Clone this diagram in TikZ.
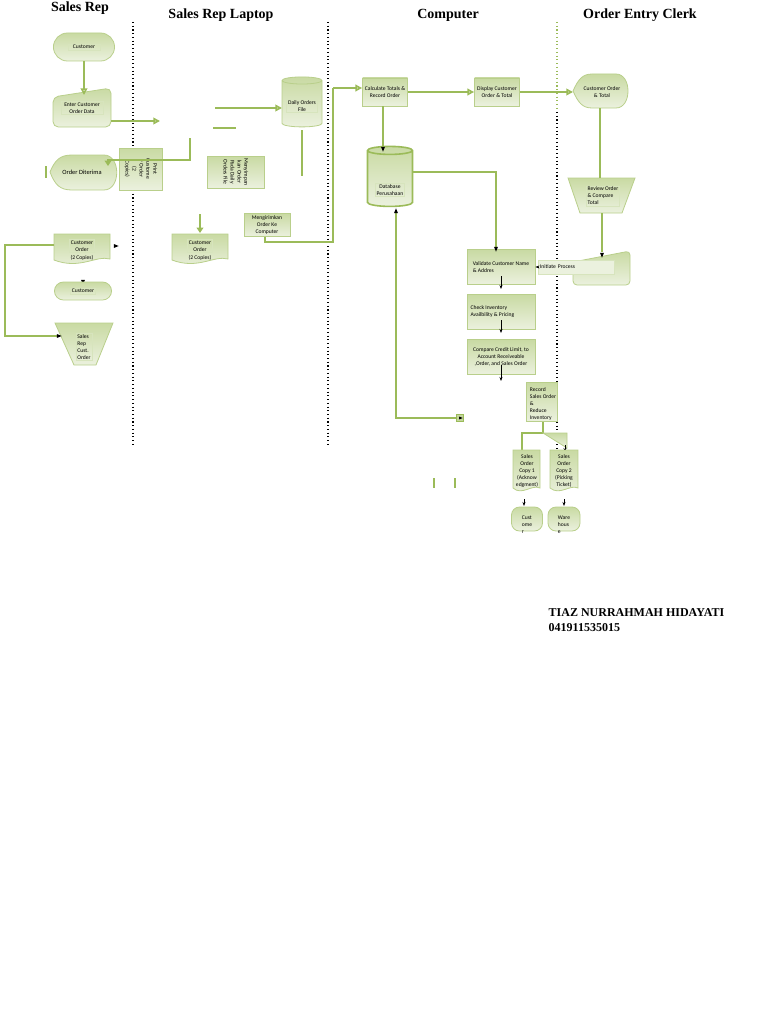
\documentclass[tikz,border=0pt]{standalone}
\usepackage{fontspec}
\setmainfont{Carlito}
\newfontfamily\hdfont{Liberation Serif}
\usetikzlibrary{shapes.geometric,shapes.misc,arrows.meta}
\definecolor{gb}{HTML}{9BBB59}
\definecolor{gl}{HTML}{EBF1DE}
\definecolor{gm}{HTML}{C9DAA3}
\tikzset{
  shp/.style={draw=gb!70,top color=gm,bottom color=gl,line width=0.6pt},
  box/.style={shp,align=center,inner sep=1pt,font=\fontsize{4.2}{5.2}\selectfont},
  lbl/.style={draw=gb!40,align=center,inner sep=1pt,font=\fontsize{4.2}{5.2}\selectfont},
  txt/.style={align=center,inner sep=1pt,font=\fontsize{4.2}{5.2}\selectfont},
  con/.style={draw=gb,line width=1.8pt},
  oarr/.style={con,-{Triangle[open,length=5pt,width=5pt]}},
  barr/.style={draw=black,line width=0.6pt,-{Stealth[length=3pt]}},
  head/.style={font=\hdfont\bfseries\fontsize{10.5}{12}\selectfont},
  lane/.style={draw=black,dotted,line width=0.8pt},
}
\newcommand\bx[7][]{\node[box,#1,minimum width={#5*0.75pt},minimum height={#6*0.75pt}] (#2) at (#3,-#4) {#7};}
\begin{document}
\begin{tikzpicture}[x=0.75pt,y=0.75pt]
\useasboundingbox (0,0) rectangle (768,-1024);
% headers
\node[head] (h1) at (80,-8) {Sales Rep};
\node[head] (h2) at (221,-15) {Sales Rep Laptop};
\node[head] (h3) at (448,-15) {Computer};
\node[head] (h4) at (640,-15) {Order Entry Clerk};
% lanes
\coordinate (l1a) at (133,-22); \coordinate (l1b) at (133,-445);
\coordinate (l2a) at (328,-22); \coordinate (l2b) at (328,-445);
\coordinate (l3a) at (557,-22); \coordinate (l3m) at (557,-112); \coordinate (l3b) at (557,-490);
\draw[lane] (l1a) -- (l1b);
\draw[lane] (l2a) -- (l2b);
\draw[lane,draw=gb] (l3a) -- (l3m);
\draw[lane] (l3m) -- (l3b);

% ---- Sales Rep
\node[shp,rounded rectangle,minimum width={70*0.75pt},minimum height={28*0.75pt}] (cust1) at (84,-47) {};
\node[lbl,minimum width={32*0.75pt}] (cust1t) at (cust1) {Customer};
\path[shp,rounded corners=4] (53,-97) -- (111,-88) -- (111,-127) -- (53,-127) -- cycle;
\node[lbl,minimum width={42*0.75pt}] (enter) at (82,-108) {Enter Customer\\Order Data};
\coordinate (cb) at (84,-61); \coordinate (eb) at (84,-95);
\draw[oarr] (cb) -- (eb);
\path[shp] (50,-172) .. controls (55,-160) and (60,-155) .. (72,-155) -- (104,-155) .. controls (121,-155) and (121,-190) .. (104,-190) -- (72,-190) .. controls (60,-190) and (55,-185) .. (50,-172) -- cycle;
\node[txt,font=\fontsize{4.8}{5.5}\selectfont] (diterima) at (82,-172) {Order Diterima};
\draw[draw=gb,line width=1pt] (46,-166) -- (46,-178);
\bx{print}{141}{169}{43}{42}{}
\node[txt,rotate=-90] (printt) at (141,-169) {Print\\Custome\\r Order\\(2\\Copies)};
% docs
\path[shp] (54,-234) -- (110,-234) -- (110,-259) .. controls (96,-255) and (80,-270) .. (54,-260) -- cycle;
\node[lbl] (co1) at (82,-246) {Customer\\Order};
\node[txt] (co1b) at (82,-258) {(2 Copies)};
\node[fill=black,isosceles triangle,inner sep=0.8pt,shape border rotate=0] (m1) at (115,-246) {};
\node[fill=black,isosceles triangle,inner sep=0.8pt,shape border rotate=-90] (m2) at (83,-281) {};
\node[shp,rounded rectangle,minimum width={66*0.75pt},minimum height={18*0.75pt}] (cust2) at (83,-291) {};
\node[lbl] (cust2t) at (cust2) {Customer};
\path[shp] (55,-323) -- (113,-323) -- (96,-365) -- (74,-365) -- cycle;
\node[lbl,align=left] (srcot) at (84,-347) {Sales\\Rep\\Cust.\\Order};
\coordinate (t1) at (5,-245); \coordinate (t2) at (5,-336);
\coordinate (co1l) at (54,-245);
\draw[con] (co1l) -- (t1) -- (t2) -- (57,-336);
\node[fill=black,isosceles triangle,inner sep=0.8pt] (m3) at (58,-336) {};

% ---- Laptop
\coordinate (a1s) at (111,-121); \coordinate (a1e) at (160,-121);
\draw[oarr] (a1s) -- (a1e);
\coordinate (p1) at (190,-138); \coordinate (p2) at (190,-160); \coordinate (p3) at (108,-160);
\draw[con,-{Triangle[length=4pt,width=5pt]}] (p1) -- (p2) -- (p3) -- (108,-166);
\coordinate (s1) at (213,-128); \coordinate (s2) at (236,-128);
\draw[con] (s1) -- (s2);
\node[shp,cylinder,shape border rotate=90,aspect=0.8,minimum width={40*0.75pt},minimum height={50*0.75pt}] (daily) at (302,-105) {};
\node[lbl] (dailyt) at (302,-106) {Daily Orders\\File};
\coordinate (a2s) at (215,-108); \coordinate (a2e) at (282,-108);
\draw[oarr] (a2s) -- (a2e);
\coordinate (d1) at (302,-130); \coordinate (d2) at (302,-176);
\draw[con] (d1) -- (d2);
\bx{simpan}{236}{172}{57}{32}{}
\node[txt,rotate=-90] (simpant) at (236,-172) {Menyimpan\\kan Order\\Pada Daily\\Orders File};
\path[shp] (172,-234) -- (228,-234) -- (228,-259) .. controls (214,-255) and (198,-270) .. (172,-260) -- cycle;
\node[lbl] (co2) at (200,-246) {Customer\\Order};
\node[txt] (co2b) at (200,-258) {(2 Copies)};
\coordinate (a3s) at (200,-214); \coordinate (a3e) at (200,-233);
\draw[con,-{Triangle[length=4pt,width=5pt]}] (a3s) -- (a3e);
\bx{kirim}{267}{225}{46}{23}{Mengirimkan\\Order Ke\\Computer}
\coordinate (k1) at (265,-242); \coordinate (k2) at (333,-242); \coordinate (k3) at (333,-88);

% ---- Computer
\bx{calc}{385}{92}{45}{28}{Calculate Totals \&\\Record Order}
\bx{disp}{497}{92}{45}{28}{Display Customer\\Order \& Total}
\draw[con] (kirim.south -| k1) -- (k1) -- (k2) -- (k3);
\draw[oarr] (k3) -- (calc.west |- k3);
\draw[oarr] (calc.east) -- (disp.west);
\path[shp] (573,-91) .. controls (578,-80) and (582,-74) .. (592,-74) -- (616,-74) .. controls (632,-74) and (632,-108) .. (616,-108) -- (592,-108) .. controls (582,-108) and (578,-102) .. (573,-91) -- cycle;
\node[txt] (cot) at (602,-92) {Customer Order\\\& Total};
\coordinate (cotw) at (573,-92);
\draw[oarr] (disp.east) -- (cotw);
\path[shp] (568,-178) -- (635,-178) -- (622,-213) -- (580,-213) -- cycle;
\node[lbl,align=left] (reviewt) at (603,-196) {Review Order\\\& Compare\\Total};
\coordinate (c1) at (600,-108); \coordinate (c1b) at (600,-178);
\draw[con] (c1) -- (c1b);
\path[shp,rounded corners=3] (573,-262) -- (630,-251) -- (630,-285) -- (573,-285) -- cycle;
\node[lbl,minimum width={76*0.75pt},minimum height={14*0.75pt},text width={72*0.75pt},align=left,fill=gl] (init) at (576,-267) {Initiate Process};
\coordinate (r1) at (602,-213); \coordinate (r2) at (602,-252);
\draw[con] (r1) -- (r2);
\node[fill=black,isosceles triangle,inner sep=0.8pt,shape border rotate=-90] (m4) at (602,-254) {};
\node[shp,cylinder,shape border rotate=90,aspect=0.9,minimum width={45*0.75pt},minimum height={60*0.75pt},line width=1.2pt,draw=gb] (db) at (390,-180) {};
\node[lbl] (dbt) at (390,-190) {Database\\Perusahaan};
\coordinate (c2) at (383,-106);
\draw[con] (c2) -- (383,-149);
\node[fill=black,isosceles triangle,inner sep=0.8pt,shape border rotate=-90] (m5) at (383,-148) {};
\bx[align=left]{valid}{501}{267}{68}{35}{Validate Customer Name\\\& Addres\phantom{xxxxxxxxxxxxx}}
\bx[align=left]{check}{501}{312}{68}{35}{Check Inventory\phantom{xxxxxxxxxx}\\Availbility \& Pricing}
\bx{cred}{501}{357}{68}{35}{Compare Credit Limit, to\\Account Receiveable\\,Order, and Sales Order}
\coordinate (v1) at (412,-172); \coordinate (v2) at (496,-172);
\draw[con] (v1) -- (v2) -- (496,-249);
\node[fill=black,isosceles triangle,inner sep=0.8pt,shape border rotate=-90] (m6) at (496,-248) {};
\draw[barr] (init.west) -- (valid.east |- init.west);
\coordinate (b1) at (501,-276); \coordinate (b2) at (501,-289);
\coordinate (b3) at (501,-320); \coordinate (b4) at (501,-333);
\coordinate (b5) at (501,-365); \coordinate (b6) at (501,-381);
\draw[barr] (b1) -- (b2);
\draw[barr] (b3) -- (b4);
\draw[barr] (b5) -- (b6);
\coordinate (u1) at (460,-418); \coordinate (u2) at (396,-418); \coordinate (u3) at (396,-212);
\draw[con] (u1) -- (u2) -- (u3);
\node[fill=black,isosceles triangle,inner sep=0.8pt,shape border rotate=90] (m7) at (396,-212) {};
\node[draw=gb,fill=gb!60,minimum size=5pt,inner sep=0pt] (m8) at (460,-418) {};
\node[fill=black,isosceles triangle,inner sep=0.6pt] (m9) at (460,-418) {};
\bx{rec}{542}{402}{31}{39}{}
\node[txt,align=left] (rect) at (543,-404) {Record\\Sales Order\\\&\\Reduce\\Inventory};
\coordinate (q1) at (543,-422); \coordinate (q2) at (543,-433); \coordinate (q3) at (522,-433); \coordinate (q4) at (522,-450);
\draw[con] (q1) -- (q2) -- (q3) -- (q4);
\path[shp] (543,-433) -- (567,-433) -- (567,-448) -- cycle;
\coordinate (w1) at (565,-445); \coordinate (w2) at (565,-452);
\draw[barr] (w1) -- (w2);
\path[shp] (513,-450) -- (540,-450) -- (540,-488) .. controls (532,-484) and (522,-496) .. (513,-488) -- cycle;
\node[txt] (sc1) at (527,-471) {Sales\\Order\\Copy 1\\(Acknow\\edgment)};
\path[shp] (550,-450) -- (578,-450) -- (578,-488) .. controls (570,-484) and (560,-496) .. (550,-488) -- cycle;
\node[txt] (sc2) at (564,-471) {Sales\\Order\\Copy 2\\(Picking\\Ticket)};
\node[shp,rounded corners=6,minimum width={31*0.75pt},minimum height={24*0.75pt}] (t3) at (527,-519) {};
\node[txt,align=left] (t3t) at (527,-525) {Cust\\ome\\r};
\node[shp,rounded corners=6,minimum width={32*0.75pt},minimum height={24*0.75pt}] (t4) at (564,-519) {};
\node[txt,align=left] (t4t) at (564,-525) {Ware\\hous\\e};
\coordinate (x1) at (524,-499); \coordinate (x2) at (524,-506);
\coordinate (x3) at (564,-499); \coordinate (x4) at (564,-506);
\draw[barr] (x1) -- (x2);
\draw[barr] (x3) -- (x4);
\coordinate (g1) at (434,-478); \coordinate (g2) at (434,-488);
\coordinate (g3) at (455,-478); \coordinate (g4) at (455,-488);
\draw[draw=gb,line width=1pt] (g1) -- (g2);
\draw[draw=gb,line width=1pt] (g3) -- (g4);
% name
\node[font=\hdfont\bfseries\fontsize{9}{11}\selectfont,align=left,anchor=north west] (name) at (544,-604) {TIAZ NURRAHMAH HIDAYATI\\041911535015};
\end{tikzpicture}
\end{document}
